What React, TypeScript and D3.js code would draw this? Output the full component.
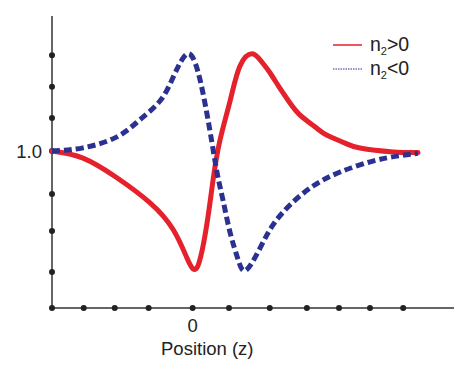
import * as d3 from "d3";

// position (z) ticks along the x axis, dot markers
const xTicks = [-3.9, -3.02, -2.16, -1.22, 0, 1.01, 2.14, 3.17, 4.06, 4.92, 5.84];
// dot markers along the y axis
const yTicks = [1.61, 1.41, 1.21, 1.0, 0.726, 0.49, 0.23];

// n2 > 0 (solid red)
const redZ = [-3.9, -3.04, -2.1, -1.18, -0.54, -0.16, 0.01, 0.18, 0.4, 0.57, 0.76, 1.04, 1.31, 1.65, 1.92, 2.15, 2.42, 2.7, 2.98, 3.4, 3.73, 4.23, 4.64, 5.56, 6.25];
const redV = [1.0, 0.955, 0.83, 0.67, 0.5, 0.32, 0.25, 0.29, 0.54, 0.82, 1.07, 1.32, 1.54, 1.62, 1.567, 1.497, 1.4, 1.306, 1.229, 1.153, 1.1, 1.05, 1.019, 0.994, 0.99];

// n2 < 0 (dashed blue)
const blueZ = [-3.9, -3.04, -2.1, -1.46, -0.9, -0.54, -0.27, -0.04, 0.21, 0.48, 0.68, 0.84, 1.04, 1.26, 1.48, 1.87, 2.23, 2.7, 3.34, 4.09, 5.0, 5.75, 6.25];
const blueV = [1.0, 1.02, 1.09, 1.2, 1.32, 1.47, 1.59, 1.61, 1.45, 1.13, 0.86, 0.69, 0.48, 0.31, 0.24, 0.382, 0.529, 0.656, 0.777, 0.866, 0.936, 0.97, 0.985];

const RED = "#e5212b";
const BLUE = "#2a3190";
const FONT = "Liberation Sans, Arial, sans-serif";

const width = 474;
const height = 374;

export default function App() {
  const x = d3.scaleLinear().domain([-3.9, 7.25]).range([52, 454]);
  const y = d3.scaleLinear().domain([0, 1.86]).range([308, 16]);

  const line = d3
    .line<[number, number]>()
    .x((d) => x(d[0]))
    .y((d) => y(d[1]))
    .curve(d3.curveNatural);

  const red = redZ.map((z, i) => [z, redV[i]] as [number, number]);
  const blue = blueZ.map((z, i) => [z, blueV[i]] as [number, number]);

  const [x0, x1] = x.domain();
  const [y0, y1] = y.domain();

  return (
    <svg
      width={width}
      height={height}
      style={{ position: "absolute", left: 0, top: 0, background: "#fff" }}
      fontFamily={FONT}
    >
      {/* axes */}
      <line x1={x(x0)} x2={x(x1)} y1={y(y0)} y2={y(y0)} stroke="#333" strokeWidth={1.5} />
      <line x1={x(x0)} x2={x(x0)} y1={y(y0)} y2={y(y1)} stroke="#333" strokeWidth={1.5} />
      {xTicks.map((t, i) => (
        <circle key={"x" + i} cx={x(t)} cy={y(y0)} r={3} fill="#222" />
      ))}
      {yTicks.map((t, i) => (
        <circle key={"y" + i} cx={x(x0)} cy={y(t)} r={3} fill="#222" />
      ))}

      {/* curves */}
      <path d={line(red) ?? ""} fill="none" stroke={RED} strokeWidth={5} strokeLinecap="round" />
      <path d={line(blue) ?? ""} fill="none" stroke={BLUE} strokeWidth={5} strokeDasharray="8,4" />

      {/* labels */}
      <text x={x(x0) - 10} y={y(1.0) + 7} textAnchor="end" fontSize={18.5} fill="#222">
        1.0
      </text>
      <text x={x(0)} y={332} textAnchor="middle" fontSize={18.5} fill="#222">
        0
      </text>
      <text x={161} y={355} fontSize={18.5} fill="#222">
        Position (z)
      </text>

      {/* legend */}
      <line x1={333} x2={362} y1={45} y2={45} stroke={RED} strokeWidth={1.5} />
      <text x={370} y={51} fontSize={19.5} fill="#222">
        n<tspan fontSize={11} dy={4}>2</tspan>
        <tspan dy={-4}>&gt;0</tspan>
      </text>
      <line x1={333} x2={362} y1={69} y2={69} stroke={BLUE} strokeWidth={1.2} strokeDasharray="1.5,1" />
      <text x={370} y={75} fontSize={19.5} fill="#222">
        n<tspan fontSize={11} dy={4}>2</tspan>
        <tspan dy={-4}>&lt;0</tspan>
      </text>
    </svg>
  );
}
